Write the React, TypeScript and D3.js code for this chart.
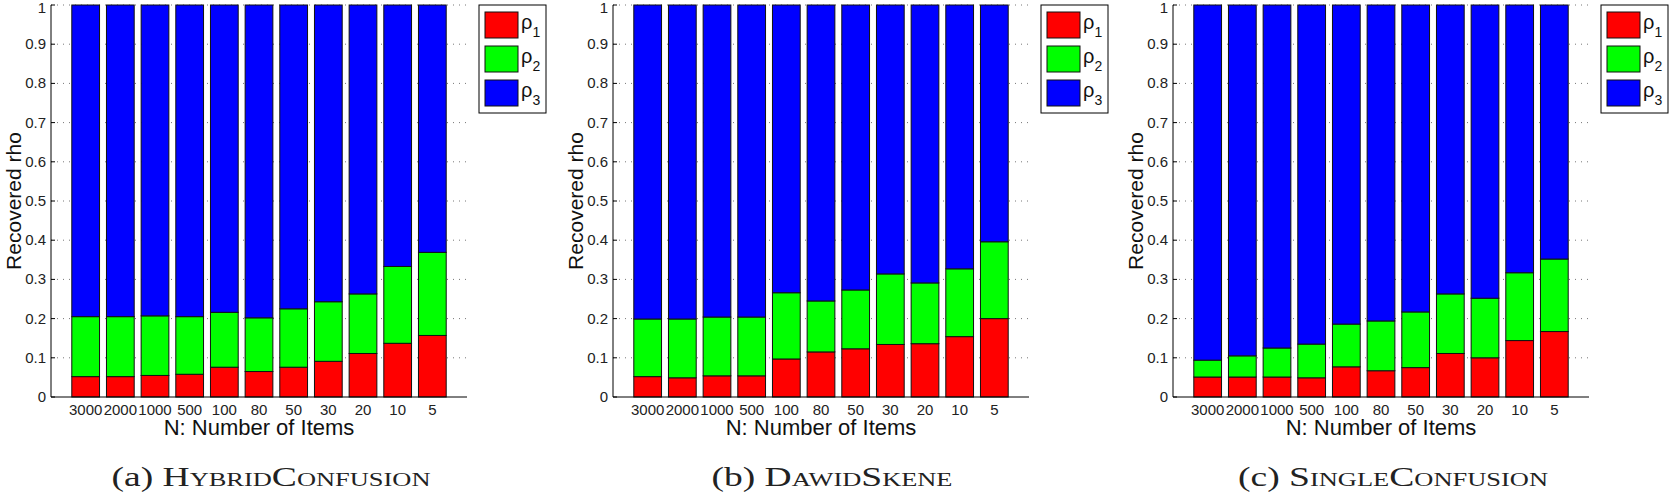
import * as d3 from "d3";

const items = ["3000", "2000", "1000", "500", "100", "80", "50", "30", "20", "10", "5"];
const yTicks = [0, 0.1, 0.2, 0.3, 0.4, 0.5, 0.6, 0.7, 0.8, 0.9, 1];
const keys = ["rho1", "rho2", "rho3"];
const colors = ["#ff0000", "#00ff00", "#0000ff"];

// (a) HybridConfusion
const hybridRho1 = [0.052, 0.052, 0.055, 0.058, 0.076, 0.065, 0.076, 0.091, 0.111, 0.137, 0.157];
const hybridRho2 = [0.153, 0.153, 0.152, 0.147, 0.14, 0.137, 0.149, 0.152, 0.152, 0.196, 0.212];
const hybridRho3 = [0.795, 0.795, 0.793, 0.795, 0.784, 0.798, 0.775, 0.757, 0.737, 0.667, 0.631];

// (b) DawidSkene
const dawidRho1 = [0.052, 0.049, 0.054, 0.054, 0.097, 0.115, 0.123, 0.134, 0.136, 0.154, 0.2];
const dawidRho2 = [0.147, 0.15, 0.15, 0.15, 0.169, 0.13, 0.15, 0.18, 0.155, 0.173, 0.196];
const dawidRho3 = [0.801, 0.801, 0.796, 0.796, 0.734, 0.755, 0.727, 0.686, 0.709, 0.673, 0.604];

// (c) SingleConfusion
const singleRho1 = [0.051, 0.051, 0.051, 0.049, 0.077, 0.067, 0.075, 0.111, 0.1, 0.144, 0.167];
const singleRho2 = [0.043, 0.054, 0.074, 0.086, 0.109, 0.127, 0.142, 0.152, 0.152, 0.173, 0.185];
const singleRho3 = [0.906, 0.895, 0.875, 0.865, 0.814, 0.806, 0.783, 0.737, 0.748, 0.683, 0.648];

const panels = [
  { left: 51, tag: "(a) ", name: "HybridConfusion", capX: 271, capW: 319, r: [hybridRho1, hybridRho2, hybridRho3] },
  { left: 613, tag: "(b) ", name: "DawidSkene", capX: 832, capW: 241, r: [dawidRho1, dawidRho2, dawidRho3] },
  { left: 1173, tag: "(c) ", name: "SingleConfusion", capX: 1393, capW: 310, r: [singleRho1, singleRho2, singleRho3] },
];

const W = 416;
const TOP = 5;
const BOTTOM = 397;
const sans = "'Liberation Sans', Arial, sans-serif";

const Panel = ({ p }) => {
  const x = d3.scaleLinear().domain([0, items.length + 1]).range([p.left, p.left + W]);
  const y = d3.scaleLinear().domain([0, 1]).range([BOTTOM, TOP]);
  const rows = items.map((it, i) => ({ item: it, idx: i + 1, rho1: p.r[0][i], rho2: p.r[1][i], rho3: p.r[2][i] }));
  const series = d3.stack().keys(keys)(rows);
  const bw = x(0.8) - x(0);
  const lx = p.left + 428;

  return (
    <g>
      {yTicks.slice(1).map((t) => (
        <line key={t} x1={p.left} x2={p.left + W} y1={y(t)} y2={y(t)} stroke="#777" strokeWidth={1} strokeDasharray="1 5" />
      ))}
      {series.map((s, k) => (
        <g key={s.key}>
          {s.map((d) => (
            <rect
              key={d.data.item}
              x={x(d.data.idx) - bw / 2}
              y={y(d[1])}
              width={bw}
              height={y(d[0]) - y(d[1])}
              fill={colors[k]}
              stroke="#111"
              strokeWidth={1}
            />
          ))}
        </g>
      ))}
      <line x1={p.left} x2={p.left} y1={TOP} y2={BOTTOM} stroke="#000" />
      <line x1={p.left} x2={p.left + W} y1={BOTTOM} y2={BOTTOM} stroke="#000" />
      {yTicks.map((t) => (
        <g key={t}>
          <line x1={p.left} x2={p.left + 4} y1={y(t)} y2={y(t)} stroke="#000" />
          <text x={p.left - 5} y={Math.max(y(t) + 5, 13)} textAnchor="end" fontSize={15} fontFamily={sans} fill="#222">
            {t === 0 || t === 1 ? String(t) : d3.format(".1f")(t)}
          </text>
        </g>
      ))}
      {rows.map((d) => (
        <text key={d.item} x={x(d.idx)} y={415} textAnchor="middle" fontSize={15} fontFamily={sans} fill="#222">
          {d.item}
        </text>
      ))}
      <text x={p.left + W / 2} y={435} textAnchor="middle" fontSize={22} fontFamily={sans} fill="#111">
        N: Number of Items
      </text>
      <text
        transform={`translate(${p.left - 30},${(TOP + BOTTOM) / 2}) rotate(-90)`}
        textAnchor="middle"
        fontSize={21}
        fontFamily={sans}
        fill="#111"
      >
        Recovered rho
      </text>
      <rect x={lx} y={5} width={67} height={108} fill="#fff" stroke="#000" />
      {keys.map((k, i) => (
        <g key={k}>
          <rect x={lx + 6} y={12 + i * 34} width={33} height={26} fill={colors[i]} stroke="#111" />
          <text x={lx + 42} y={12 + i * 34 + 17} fontSize={20} fontFamily={sans} fill="#111">
            ρ<tspan fontSize={14} dy={8}>{i + 1}</tspan>
          </text>
        </g>
      ))}
      <text
        x={p.capX}
        y={486}
        textAnchor="middle"
        fontSize={27}
        fontFamily="'Liberation Serif', 'DejaVu Serif', serif"
        fill="#222"
        textLength={p.capW}
        lengthAdjust="spacingAndGlyphs"
      >
        {p.tag}
        <tspan style={{ fontVariant: "small-caps" }}>{p.name}</tspan>
      </text>
    </g>
  );
};

export default function App() {
  return (
    <svg
      width={1669}
      height={494}
      style={{ position: "absolute", left: 0, top: 0, background: "#fff" }}
    >
      {panels.map((p) => (
        <Panel key={p.name} p={p} />
      ))}
    </svg>
  );
}
